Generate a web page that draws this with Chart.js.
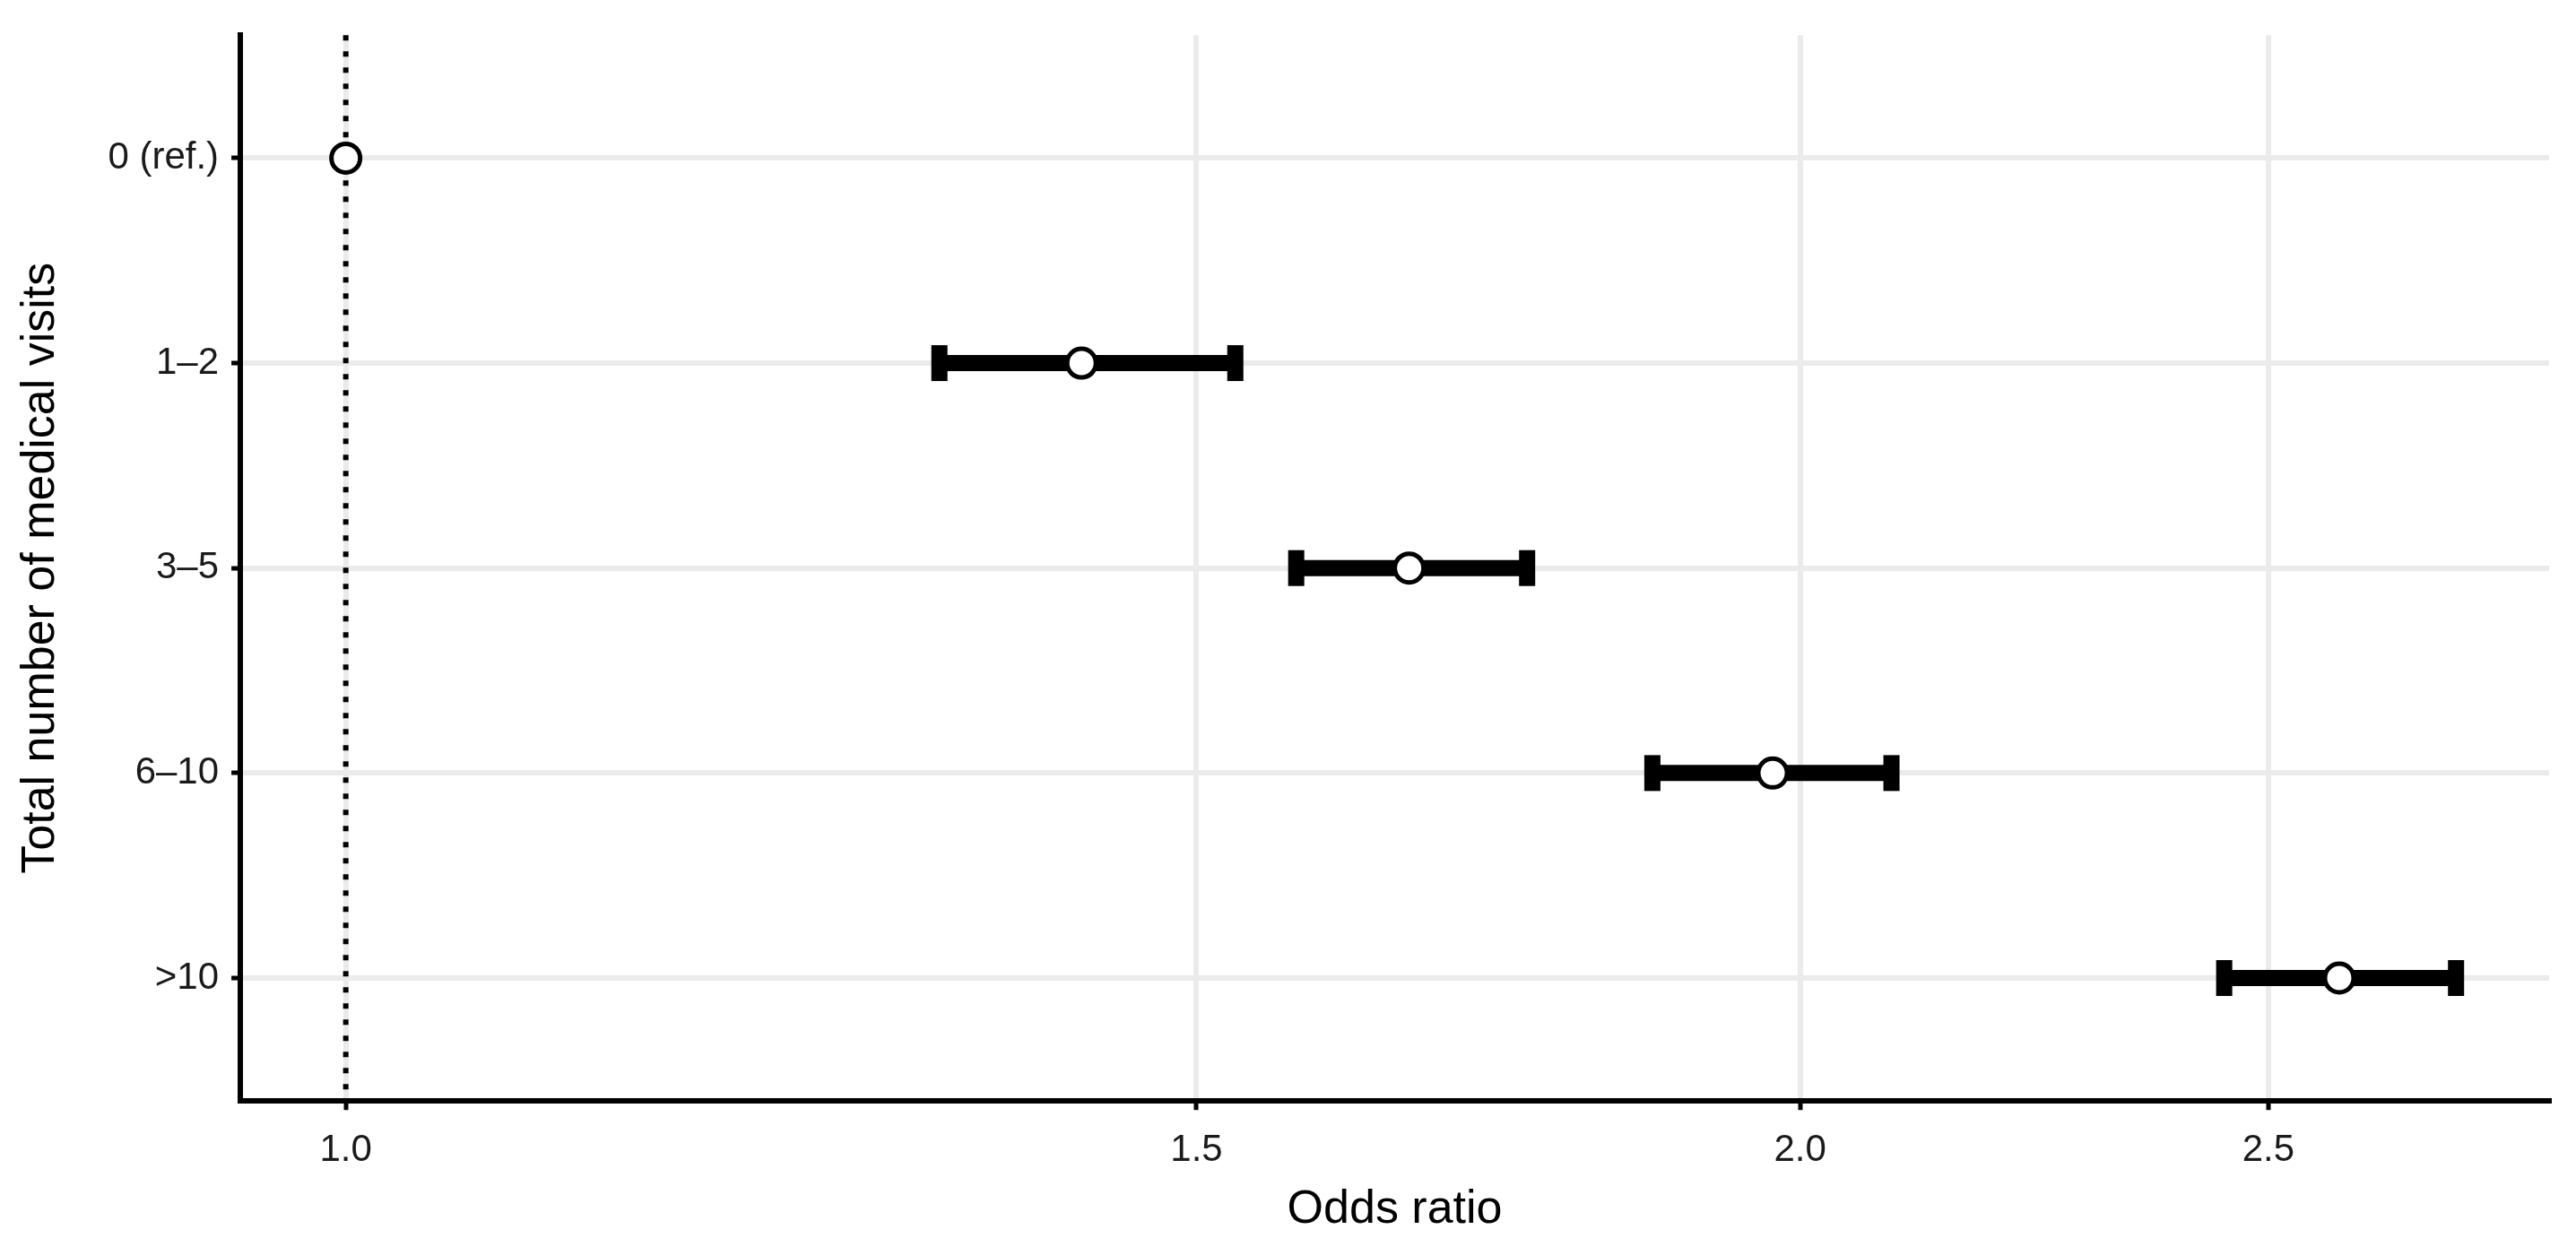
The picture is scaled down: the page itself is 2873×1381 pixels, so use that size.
<!DOCTYPE html>
<html>
<head>
<meta charset="utf-8">
<script src="https://cdn.jsdelivr.net/npm/chart.js@4"></script>
<style>
  html, body { margin: 0; padding: 0; background: #fff; }
  #wrap { width: 2873px; height: 1381px; }
</style>
</head>
<body>
<div id="wrap"><canvas id="chart"></canvas></div>
<script>
const categories = ['0 (ref.)', '1\u20132', '3\u20135', '6\u201310', '>10'];
const oddsRatio = [1.0, 1.42, 1.66, 1.974, 2.586];
const lowerCI = [null, 1.327, 1.573, 1.864, 2.448];
const upperCI = [null, 1.528, 1.756, 2.089, 2.734];
const xTicks = [1.0, 1.5, 2.0, 2.5];

const points = oddsRatio.map((v, i) => ({ x: v, y: i }));

const errorBars = {
  id: 'errorBars',
  beforeDatasetsDraw(chart) {
    const { ctx, scales: { x, y }, chartArea } = chart;
    ctx.save();
    // dotted reference line at 1
    ctx.strokeStyle = '#000';
    ctx.lineWidth = 6;
    ctx.setLineDash([6, 12]);
    const rx = x.getPixelForValue(1);
    ctx.beginPath();
    ctx.moveTo(rx, chartArea.top);
    ctx.lineTo(rx, chartArea.bottom);
    ctx.stroke();
    ctx.setLineDash([]);
    lowerCI.forEach((lo, i) => {
      if (lo == null) return;
      const x1 = x.getPixelForValue(lo), x2 = x.getPixelForValue(upperCI[i]);
      const py = y.getPixelForValue(i);
      ctx.lineWidth = 18;
      ctx.beginPath();
      ctx.moveTo(x1, py); ctx.lineTo(x2, py);
      ctx.stroke();
      ctx.fillStyle = '#000';
      ctx.fillRect(x1 - 9, py - 20, 18, 40);
      ctx.fillRect(x2 - 9, py - 20, 18, 40);
    });
    ctx.restore();
  }
};

new Chart(document.getElementById('chart'), {
  type: 'scatter',
  data: {
    datasets: [{
      data: points,
      pointRadius: 16,
      pointHoverRadius: 16,
      pointBackgroundColor: '#fff',
      pointBorderColor: '#000',
      pointBorderWidth: 5
    }]
  },
  options: {
    responsive: true,
    maintainAspectRatio: false,
    animation: false,
    layout: { padding: { top: 20, right: 30, bottom: 0, left: 10 } },
    plugins: { legend: { display: false }, tooltip: { enabled: false } },
    scales: {
      x: {
        type: 'logarithmic',
        min: 0.951,
        max: 2.858,
        afterBuildTicks: s => { s.ticks = xTicks.map(v => ({ value: v })); },
        ticks: {
          callback: v => Number(v).toFixed(1),
          color: '#1a1a1a',
          font: { family: 'Liberation Sans, Arial', size: 42 },
          padding: 20
        },
        grid: { color: '#ebebeb', lineWidth: 6, tickColor: '#000', tickLength: 10, tickWidth: 5 },
        border: { color: '#000', width: 6 },
        title: {
          display: true, text: 'Odds ratio', color: '#000',
          font: { family: 'Liberation Sans, Arial', size: 52 }, padding: { top: -10, bottom: 0 }
        }
      },
      y: {
        type: 'linear',
        reverse: true,
        min: -0.6,
        max: 4.6,
        afterBuildTicks: s => { s.ticks = categories.map((c, i) => ({ value: i })); },
        ticks: {
          callback: v => categories[v],
          color: '#1a1a1a',
          font: { family: 'Liberation Sans, Arial', size: 42 },
          padding: 14
        },
        grid: { color: '#ebebeb', lineWidth: 6, tickColor: '#000', tickLength: 10, tickWidth: 5 },
        border: { color: '#000', width: 6 },
        title: {
          display: true, text: 'Total number of medical visits', color: '#000',
          font: { family: 'Liberation Sans, Arial', size: 52 }, padding: { bottom: 30 }
        }
      }
    }
  },
  plugins: [errorBars]
});
</script>
</body>
</html>
